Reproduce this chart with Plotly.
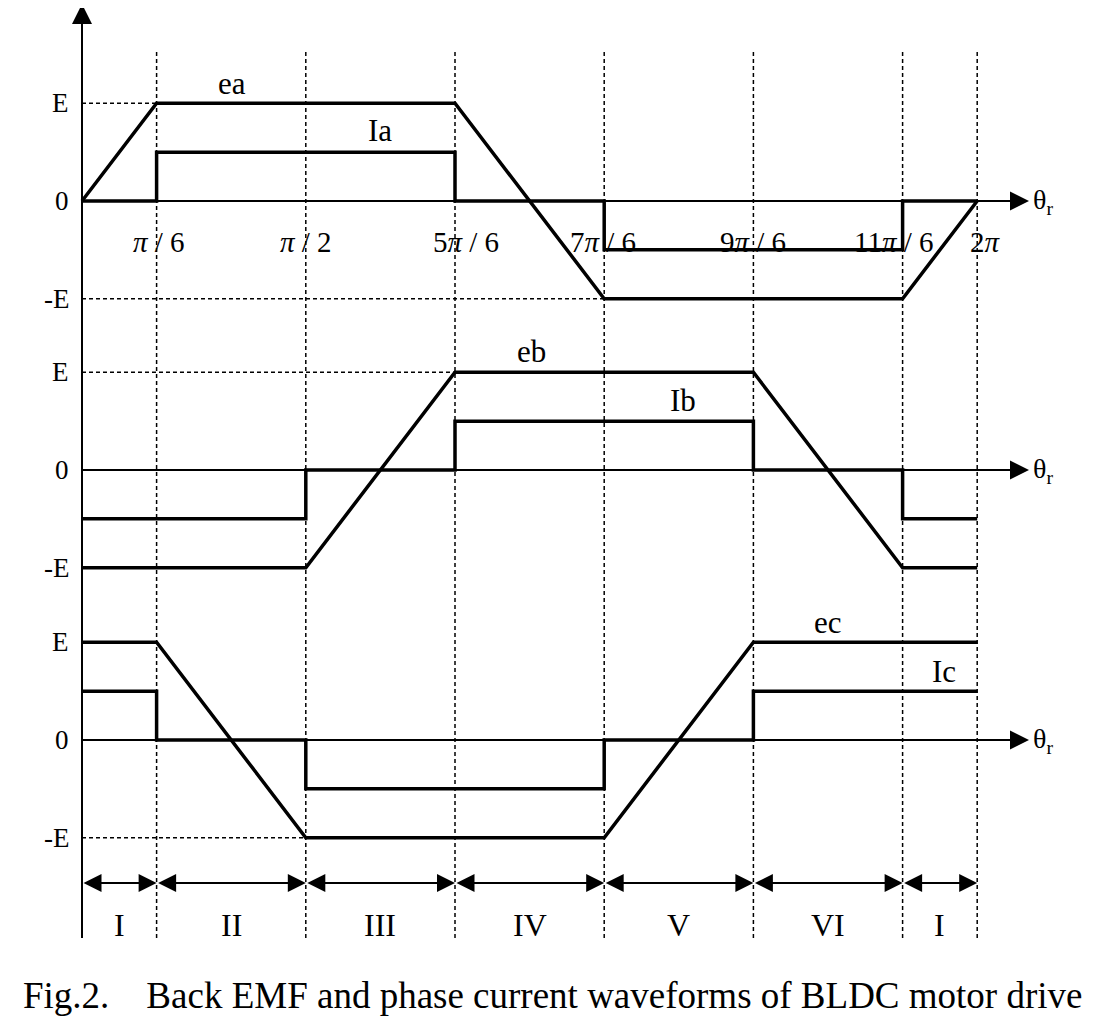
"""
Back EMF and phase current waveforms of a BLDC motor drive (six-step).
"""
import plotly.graph_objects as go

# ---- data (x in units of pi/6, y in units of E) ----
theta_ea = [0, 1, 5, 7, 11, 12]
ea = [0, 1, 1, -1, -1, 0]
theta_ia = [0, 1, 1, 5, 5, 7, 7, 11, 11, 12]
ia = [0, 0, 0.5, 0.5, 0, 0, -0.5, -0.5, 0, 0]

theta_eb = [0, 3, 5, 9, 11, 12]
eb = [-1, -1, 1, 1, -1, -1]
theta_ib = [0, 3, 3, 5, 5, 9, 9, 11, 11, 12]
ib = [-0.5, -0.5, 0, 0, 0.5, 0.5, 0, 0, -0.5, -0.5]

theta_ec = [0, 1, 3, 7, 9, 12]
ec = [1, 1, -1, -1, 1, 1]
theta_ic = [0, 1, 1, 3, 3, 7, 7, 9, 9, 12]
ic = [0.5, 0.5, 0, 0, -0.5, -0.5, 0, 0, 0.5, 0.5]

tick_pos = [1, 3, 5, 7, 9, 11, 12]
tick_text = ["<i>π</i> / 6", "<i>π</i> / 2", "5<i>π</i> / 6", "7<i>π</i> / 6",
             "9<i>π</i> / 6", "11<i>π</i> / 6", "2<i>π</i>"]
tick_nudge = [0.03, 0.0, 0.15, -0.01, -0.01, -0.12, 0.11]

sector_bounds = [0, 1, 3, 5, 7, 9, 11, 12]
sector_names = ["I", "II", "III", "IV", "V", "VI", "I"]

level_text = ["E", "0", "-E"]
level_vals = [1, 0, -1]

# ---- layout constants (pixels of the 1106x1024 page) ----
PAGE_PAD = 8                      # body margin of the html page
W, H = 1106 - PAGE_PAD, 1024 - PAGE_PAD
X0_PX, UNIT_PX = 82, 74.6
Y0_PX, E_PX = 201, 97.7


def py(px):
    return (Y0_PX - px) / E_PX


def px_x(px):
    return (px - X0_PX) / UNIT_PX


offsets = [0.0, py(470), py(740)]
FONT = "Liberation Serif"
BLACK = "#000000"
DASH = "4px,3px"

fig = go.Figure()


def add_line(x, y, width=3.5, dash=None):
    fig.add_trace(go.Scatter(
        x=x, y=y, mode="lines", hoverinfo="skip",
        line=dict(color=BLACK, width=width, dash=dash),
    ))


# vertical dashed guide lines
for t in tick_pos:
    add_line([t, t], [py(52), py(938)], width=1.5, dash=DASH)

# horizontal dashed guides at +E / -E up to where the waveform reaches them
add_line([0, 1], [offsets[0] + 1] * 2, width=1.5, dash=DASH)
add_line([0, 7], [offsets[0] - 1] * 2, width=1.5, dash=DASH)
add_line([0, 5], [offsets[1] + 1] * 2, width=1.5, dash=DASH)
add_line([0, 3], [offsets[2] - 1] * 2, width=1.5, dash=DASH)

# axes
add_line([0, 0], [py(938), py(20)], width=2)
for off in offsets:
    add_line([0, px_x(1012)], [off, off], width=2)

# waveforms
waves = [
    (theta_ea, ea, 0), (theta_ia, ia, 0),
    (theta_eb, eb, 1), (theta_ib, ib, 1),
    (theta_ec, ec, 2), (theta_ic, ic, 2),
]
for th, vals, k in waves:
    add_line(th, [v + offsets[k] for v in vals], width=3.5)

annotations = []


def arrow(x, y, ax, ay, both=False, size=1.8):
    annotations.append(dict(
        x=x, y=y, ax=ax, ay=ay, xref="x", yref="y", axref="x", ayref="y",
        text="", showarrow=True, arrowhead=2, startarrowhead=2,
        arrowsize=size, startarrowsize=size, arrowwidth=2, arrowcolor=BLACK,
        arrowside="end+start" if both else "end", standoff=0, startstandoff=0,
    ))


def label(x, y, text, size=26, xanchor="center"):
    annotations.append(dict(
        x=x, y=y, xref="x", yref="y", text=text, showarrow=False,
        xanchor=xanchor, yanchor="middle",
        font=dict(family=FONT, size=size, color=BLACK),
    ))


# axis arrowheads
arrow(0, py(4), 0, py(40), size=2.0)
for off in offsets:
    arrow(px_x(1029), off, px_x(990), off, size=1.9)
    label(px_x(1031), off, "θ<sub>r</sub>", size=28, xanchor="left")

# level labels
for off in offsets:
    for txt, v in zip(level_text, level_vals):
        label(px_x(71), off + v, txt, size=27, xanchor="right")

# angle tick labels (top panel)
for t, txt, dx in zip(tick_pos, tick_text, tick_nudge):
    label(t + dx, py(242), txt, size=29)

# curve names
label(px_x(232), py(83), "ea", size=31)
label(px_x(380), py(130), "Ia", size=31)
label(px_x(531), py(351), "eb", size=31)
label(px_x(683), py(400), "Ib", size=31)
label(px_x(828), py(622), "ec", size=31)
label(px_x(944), py(671), "Ic", size=31)

# sector arrows and numerals
y_arr = py(883)
for a, b, name in zip(sector_bounds[:-1], sector_bounds[1:], sector_names):
    arrow(b, y_arr, a, y_arr, both=True, size=1.8)
    label((a + b) / 2, py(925), name, size=32)

# caption
label(px_x(552), py(995),
      "Fig.2.&nbsp;&nbsp;&nbsp;&nbsp;Back EMF and phase current waveforms of BLDC motor drive",
      size=37)

fig.update_layout(
    width=W, height=H,
    margin=dict(l=0, r=0, t=0, b=0),
    plot_bgcolor="white", paper_bgcolor="white",
    showlegend=False,
    annotations=annotations,
    xaxis=dict(range=[px_x(PAGE_PAD), px_x(PAGE_PAD + W)], visible=False, fixedrange=True),
    yaxis=dict(range=[py(PAGE_PAD + H), py(PAGE_PAD)], visible=False, fixedrange=True),
)

fig.write_html("out.html")
